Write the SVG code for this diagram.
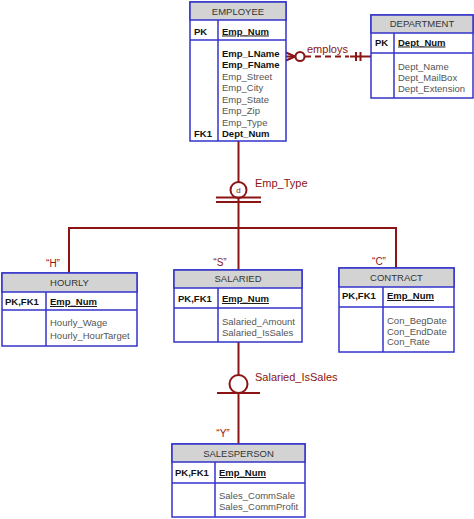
<svg xmlns="http://www.w3.org/2000/svg" width="474" height="519" viewBox="0 0 474 519">
<style>
.box{fill:#fff;stroke:#3333cc;stroke-width:1.5}
.hdr{fill:#d3d3d3;stroke:#3333cc;stroke-width:1.5}
.ln{stroke:#3333cc;stroke-width:1.5;fill:none}
text{font-family:"Liberation Sans",Arial,sans-serif}
.t{font-size:9.5px;fill:#555}
.h{font-size:9.5px;fill:#333;text-anchor:middle}
.b{font-size:9.5px;fill:#111;font-weight:bold}
.u{text-decoration:underline}
.c{stroke:#8b1414;stroke-width:2;fill:none}
.lbl{font-size:11px;fill:#8b1414}
.q{font-size:10px;fill:#8b1414;text-anchor:middle}
</style>
<rect width="474" height="519" fill="#fff"/>
<g id="connectors">
  <!-- employs -->
  <line class="c" x1="286" y1="52.5" x2="295" y2="56.5"/>
  <line class="c" x1="286" y1="56.5" x2="295.5" y2="56.5"/>
  <line class="c" x1="286" y1="60.5" x2="295" y2="56.5"/>
  <circle class="c" cx="300" cy="56.5" r="4.5"/>
  <line class="c" x1="305" y1="56.5" x2="349" y2="56.5" stroke-dasharray="6,4"/>
  <line class="c" x1="350" y1="56.5" x2="371" y2="56.5"/>
  <line class="c" x1="356" y1="52" x2="356" y2="61"/>
  <line class="c" x1="360.5" y1="52" x2="360.5" y2="61"/>
  <text class="lbl" x="307" y="53">employs</text>
  <!-- disjoint subtype -->
  <line class="c" x1="238.5" y1="141" x2="238.5" y2="182"/>
  <circle class="c" cx="238.5" cy="190" r="8"/>
  <text x="238.5" y="193" font-size="8" fill="#8b1414" text-anchor="middle">d</text>
  <line class="c" x1="238.5" y1="198" x2="238.5" y2="228"/>
  <line class="c" x1="216" y1="197.5" x2="261" y2="197.5"/>
  <line class="c" x1="216" y1="202" x2="261" y2="202"/>
  <text class="lbl" x="255" y="186.5">Emp_Type</text>
  <line class="c" x1="68" y1="228" x2="397" y2="228"/>
  <line class="c" x1="69" y1="228" x2="69" y2="273"/>
  <line class="c" x1="238.5" y1="228" x2="238.5" y2="270"/>
  <line class="c" x1="396" y1="228" x2="396" y2="268"/>
  <text class="q" x="53" y="266.5">“H”</text>
  <text class="q" x="220" y="266">“S”</text>
  <text class="q" x="379" y="265">“C”</text>
  <!-- salesperson -->
  <line class="c" x1="238.5" y1="342" x2="238.5" y2="375"/>
  <circle class="c" cx="238.5" cy="384" r="9"/>
  <line class="c" x1="217" y1="393" x2="260" y2="393"/>
  <line class="c" x1="238.5" y1="393" x2="238.5" y2="444"/>
  <text class="lbl" x="255" y="380.5">Salaried_IsSales</text>
  <text class="q" x="223" y="437">“Y”</text>
</g>
<g id="employee">
  <rect class="box" x="190" y="2" width="96" height="139"/>
  <rect class="hdr" x="190" y="2" width="96" height="18"/>
  <line class="ln" x1="190" y1="40" x2="286" y2="40"/>
  <line class="ln" x1="218" y1="20" x2="218" y2="141"/>
  <text class="h" x="238" y="15">EMPLOYEE</text>
  <text class="b" x="194" y="34.5">PK</text>
  <text class="b u" x="222" y="34.5">Emp_Num</text>
  <text class="b" x="222" y="56.5">Emp_LName</text>
  <text class="b" x="222" y="68">Emp_FName</text>
  <text class="t" x="222" y="79.5">Emp_Street</text>
  <text class="t" x="222" y="91">Emp_City</text>
  <text class="t" x="222" y="102.5">Emp_State</text>
  <text class="t" x="222" y="114">Emp_Zip</text>
  <text class="t" x="222" y="125.5">Emp_Type</text>
  <text class="b" x="194" y="137">FK1</text>
  <text class="b" x="222" y="137">Dept_Num</text>
</g>
<g id="department">
  <rect class="box" x="371" y="15" width="102" height="83"/>
  <rect class="hdr" x="371" y="15" width="102" height="18"/>
  <line class="ln" x1="371" y1="53" x2="473" y2="53"/>
  <line class="ln" x1="394" y1="33" x2="394" y2="98"/>
  <text class="h" x="422" y="27">DEPARTMENT</text>
  <text class="b" x="375" y="45.5">PK</text>
  <text class="b u" x="398" y="45.5">Dept_Num</text>
  <text class="t" x="398" y="69.5">Dept_Name</text>
  <text class="t" x="398" y="80.5">Dept_MailBox</text>
  <text class="t" x="398" y="91.5">Dept_Extension</text>
</g>
<g id="hourly">
  <rect class="box" x="2" y="273" width="135" height="73"/>
  <rect class="hdr" x="2" y="273" width="135" height="19"/>
  <line class="ln" x1="2" y1="310" x2="137" y2="310"/>
  <line class="ln" x1="46" y1="292" x2="46" y2="346"/>
  <text class="h" x="69.5" y="285.5">HOURLY</text>
  <text class="b" x="5" y="305">PK,FK1</text>
  <text class="b u" x="50" y="305">Emp_Num</text>
  <text class="t" x="50" y="326">Hourly_Wage</text>
  <text class="t" x="50" y="338.5">Hourly_HourTarget</text>
</g>
<g id="salaried">
  <rect class="box" x="174" y="270" width="128" height="72"/>
  <rect class="hdr" x="174" y="270" width="128" height="18"/>
  <line class="ln" x1="174" y1="308" x2="302" y2="308"/>
  <line class="ln" x1="218" y1="288" x2="218" y2="342"/>
  <text class="h" x="238" y="282">SALARIED</text>
  <text class="b" x="178" y="302">PK,FK1</text>
  <text class="b u" x="222" y="302">Emp_Num</text>
  <text class="t" x="222" y="324.5">Salaried_Amount</text>
  <text class="t" x="222" y="335.5">Salaried_IsSales</text>
</g>
<g id="contract">
  <rect class="box" x="339" y="268" width="115" height="84"/>
  <rect class="hdr" x="339" y="268" width="115" height="19"/>
  <line class="ln" x1="339" y1="307" x2="454" y2="307"/>
  <line class="ln" x1="383" y1="287" x2="383" y2="352"/>
  <text class="h" x="396.5" y="280.5">CONTRACT</text>
  <text class="b" x="342" y="299">PK,FK1</text>
  <text class="b u" x="387" y="299">Emp_Num</text>
  <text class="t" x="387" y="323.5">Con_BegDate</text>
  <text class="t" x="387" y="334.5">Con_EndDate</text>
  <text class="t" x="387" y="345">Con_Rate</text>
</g>
<g id="salesperson">
  <rect class="box" x="172" y="444" width="133" height="73"/>
  <rect class="hdr" x="172" y="444" width="133" height="18"/>
  <line class="ln" x1="172" y1="483" x2="305" y2="483"/>
  <line class="ln" x1="215" y1="462" x2="215" y2="517"/>
  <text class="h" x="238.5" y="456.5">SALESPERSON</text>
  <text class="b" x="175" y="476">PK,FK1</text>
  <text class="b u" x="219" y="476">Emp_Num</text>
  <text class="t" x="219" y="498.5">Sales_CommSale</text>
  <text class="t" x="219" y="509.5">Sales_CommProfit</text>
</g>
</svg>
